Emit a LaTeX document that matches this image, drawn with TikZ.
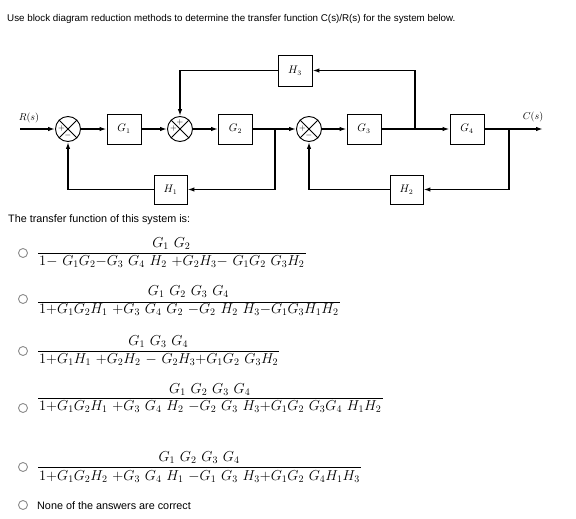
\documentclass[tikz,border=0pt]{standalone}
\usepackage[no-math]{fontspec}
\newfontfamily\arial{Liberation Sans}
\usetikzlibrary{arrows.meta,calc}
\begin{document}
\begin{tikzpicture}[x=1pt,y=-1pt,
  blk/.style={draw,line width=0.9pt,minimum width=34pt,minimum height=30pt,inner sep=0pt,font=\fontsize{10.5}{12}\selectfont},
  sumj/.style={draw,circle,line width=0.9pt,minimum size=25pt,inner sep=0pt,
    path picture={\draw[line width=0.8pt] (path picture bounding box.north west)--(path picture bounding box.south east)
      (path picture bounding box.north east)--(path picture bounding box.south west);}},
  sig/.style={draw,line width=1.6pt,-{Latex[length=7pt,width=4.5pt]}},
  sgn/.style={font=\fontsize{8}{8}\selectfont,inner sep=0pt},
  lbl/.style={font=\fontsize{10}{11}\selectfont,inner sep=0pt},
  radio/.style={draw=black!45,circle,line width=0.9pt,minimum size=9pt,inner sep=0pt},
  mathtxt/.style={font=\fontsize{14.9}{16}\selectfont,inner sep=0pt},
  fracrule/.style={line width=0.9pt},
  txt/.style={font=\arial\fontsize{10.8}{12}\selectfont,inner sep=0pt,anchor=base west}]
\useasboundingbox[fill=white] (0,0) rectangle (576,519);

\node[txt,font=\arial\fontsize{9.8}{11}\selectfont] (title) at (7,22) {Use block diagram reduction methods to determine the transfer function C(s)/R(s) for the system below.};

% blocks
\node[blk] (G1) at (124,129) {$G_1$};
\node[blk] (G2) at (235.5,129) {$G_2$};
\node[blk] (G3) at (364,129) {$G_3$};
\node[blk] (G4) at (467,129) {$G_4$};
\node[blk,minimum width=33pt,minimum height=29pt] (H1) at (170.5,189.5) {$H_1$};
\node[blk,minimum width=33pt,minimum height=29pt] (H2) at (406.5,189.5) {$H_2$};
\node[blk,minimum width=34pt,minimum height=31pt] (H3) at (295,70.5) {$H_3$};

% summing junctions
\node[sumj] (s1) at (68,129) {};
\node[sumj] (s2) at (180,129) {};
\node[sumj] (s3) at (309,129) {};
\node[sgn] (s1p) at ($(s1)+(-6.5,0)$) {$+$};
\node[sgn] (s1m) at ($(s1)+(0,6.5)$) {$-$};
\node[sgn] (s2p) at ($(s2)+(0,-6.5)$) {$+$};
\node[sgn] (s2q) at ($(s2)+(-6.5,0)$) {$+$};
\node[sgn] (s3p) at ($(s3)+(-6.5,0)$) {$+$};
\node[sgn] (s3m) at ($(s3)+(0,6.5)$) {$-$};

\coordinate (in) at (20,129);
\coordinate (b1) at (275,129);
\coordinate (b2) at (415,129);
\coordinate (b3) at (509,129);
\coordinate (out) at (543,129);
\node[lbl,anchor=base] (Rs) at (29,121) {$R(s)$};
\node[lbl,anchor=base] (Cs) at (533,120) {$C(s)$};

% forward path
\draw[sig] (in) -- (s1);
\draw[sig] (s1) -- (G1);
\draw[sig] (G1) -- (s2);
\draw[sig] (s2) -- (G2);
\draw[sig] (G2) -- (s3);
\draw[sig] (s3) -- (G3);
\draw[sig] (G3) -- (G4);
\draw[sig] (G4) -- (out);
% feedback paths
\draw[sig] (b1) |- (H1);
\draw[sig] (H1) -| (s1);
\draw[sig] (b2) |- (H3);
\draw[sig] (H3) -| (s2);
\draw[sig] (b3) |- (H2);
\draw[sig] (H2) -| (s3);

\node[txt] (q) at (8,222) {The transfer function of this system is:};

% option 1
\node[radio] (o1) at (23,253) {};
\node[mathtxt,anchor=base west] (d1) at (39,265) {$1{-}\ G_1G_2{-}G_3\ G_4\ H_2\ {+}G_2H_3{-}\ G_1G_2\ G_3H_2$};
\draw[fracrule] (38,253) -- ($(d1.east |- 0,253)+(1,0)$);
\node[mathtxt,anchor=base] (n1) at ($(38,253)!0.5!(d1.east |- 0,253)+(0,-6)$) {$G_1\ G_2$};

% option 2
\node[radio] (o2) at (23,299) {};
\node[mathtxt,anchor=base west] (d2) at (39,313) {$1{+}G_1G_2H_1\ {+}G_3\ G_4\ G_2\ {-}G_2\ H_2\ H_3{-}G_1G_3H_1H_2$};
\draw[fracrule] (38,302) -- ($(d2.east |- 0,302)+(1,0)$);
\node[mathtxt,anchor=base] (n2) at ($(38,302)!0.5!(d2.east |- 0,302)+(0,-7)$) {$G_1\ G_2\ G_3\ G_4$};

% option 3
\node[radio] (o3) at (23,351) {};
\node[mathtxt,anchor=base west] (d3) at (39,363) {$1{+}G_1H_1\ {+}G_2H_2\ {-}\ G_2H_3{+}G_1G_2\ G_3H_2$};
\draw[fracrule] (38,351) -- ($(d3.east |- 0,351)+(1,0)$);
\node[mathtxt,anchor=base] (n3) at ($(38,351)!0.5!(d3.east |- 0,351)+(0,-6)$) {$G_1\ G_3\ G_4$};

% option 4
\node[radio] (o4) at (23,408) {};
\node[mathtxt,anchor=base west] (d4) at (39,410) {$1{+}G_1G_2H_1\ {+}G_3\ G_4\ H_2\ {-}G_2\ G_3\ H_3{+}G_1G_2\ G_3G_4\ H_1H_2$};
\draw[fracrule] (38,398) -- ($(d4.east |- 0,398)+(1,0)$);
\node[mathtxt,anchor=base] (n4) at ($(38,398)!0.5!(d4.east |- 0,398)+(0,-5)$) {$G_1\ G_2\ G_3\ G_4$};

% option 5
\node[radio] (o5) at (23,467) {};
\node[mathtxt,anchor=base west] (d5) at (39,480) {$1{+}G_1G_2H_2\ {+}G_3\ G_4\ H_1\ {-}G_1\ G_3\ H_3{+}G_1G_2\ G_4H_1H_3$};
\draw[fracrule] (38,467) -- ($(d5.east |- 0,467)+(1,0)$);
\node[mathtxt,anchor=base] (n5) at ($(38,467)!0.5!(d5.east |- 0,467)+(0,-6)$) {$G_1\ G_2\ G_3\ G_4$};

% option 6
\node[radio] (o6) at (23,505) {};
\node[txt] (none) at (37,509) {None of the answers are correct};
\end{tikzpicture}
\end{document}
